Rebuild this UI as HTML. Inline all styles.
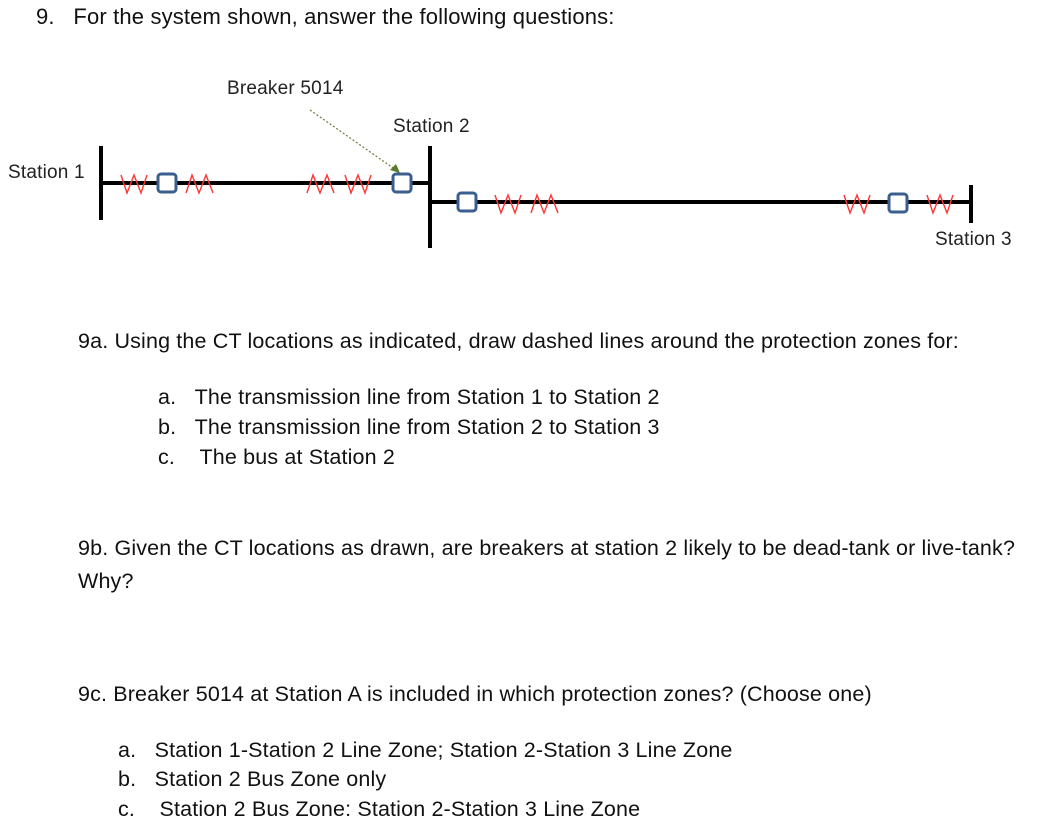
<!DOCTYPE html>
<html><head><style>
body{margin:0;width:1056px;height:840px;background:#fff;position:relative;font-family:"Liberation Sans",sans-serif;color:#111;overflow:hidden}
.t{position:absolute;white-space:nowrap}
.m{font-size:21.5px;letter-spacing:0.15px}
.s{font-size:19px;color:#222;letter-spacing:0.2px}
</style></head><body>
<div class="t m" style="left:36px;top:4px;font-size:22px">9.&nbsp;&nbsp;&nbsp;For the system shown, answer the following questions:</div>
<div class="t s" style="left:227px;top:78px">Breaker 5014</div>
<div class="t s" style="left:393px;top:116px">Station 2</div>
<div class="t s" style="left:8px;top:162px">Station 1</div>
<div class="t s" style="left:935px;top:229px">Station 3</div>
<svg width="1056" height="300" style="position:absolute;left:0;top:0">
<g stroke="#000" stroke-width="4" fill="none">
<line x1="101" y1="146" x2="101" y2="220"/>
<line x1="101" y1="183" x2="429" y2="183"/>
<line x1="430" y1="146" x2="430" y2="248"/>
<line x1="430" y1="202" x2="971" y2="202"/>
<line x1="971" y1="185" x2="971" y2="223"/>
</g>
<line x1="310" y1="110" x2="396" y2="170" stroke="#6a7a3a" stroke-width="1.2" stroke-dasharray="2,2"/>
<polygon points="400,173 390,170 396,164" fill="#5a7a2a"/>
<g stroke="#f33" stroke-width="1.4" fill="none">
<polyline points="121,175 127,193 134,175 141,193 147,175"/>
<polyline points="186,193 192,175 199,193 206,175 213,193"/>
<polyline points="307,193 313,175 320,193 327,175 334,193"/>
<polyline points="345,175 351,193 358,175 365,193 371,175"/>
<polyline points="495,195 501,213 508,195 515,213 521,195"/>
<polyline points="531,213 537,195 544,213 551,195 558,213"/>
<polyline points="844,195 850,213 857,195 864,213 870,195"/>
<polyline points="927,195 933,213 940,195 947,213 953,195"/>
</g>
<g stroke="#3a5f8f" stroke-width="3" fill="#fff">
<rect x="158" y="174" width="18" height="18" rx="3"/>
<rect x="393" y="174" width="18" height="18" rx="3"/>
<rect x="458" y="193" width="18" height="18" rx="3"/>
<rect x="889" y="194" width="18" height="18" rx="3"/>
</g>
</svg>
<div class="t m" style="left:78px;top:329px">9a. Using the CT locations as indicated, draw dashed lines around the protection zones for:</div>
<div class="t m" style="left:158px;top:385px">a.&nbsp;&nbsp;&nbsp;The transmission line from Station 1 to Station 2</div>
<div class="t m" style="left:158px;top:415px">b.&nbsp;&nbsp;&nbsp;The transmission line from Station 2 to Station 3</div>
<div class="t m" style="left:158px;top:445px">c.&nbsp;&nbsp;&nbsp;&nbsp;The bus at Station 2</div>
<div class="t m" style="left:78px;top:536px">9b. Given the CT locations as drawn, are breakers at station 2 likely to be dead-tank or live-tank?</div>
<div class="t m" style="left:78px;top:569px">Why?</div>
<div class="t m" style="left:78px;top:682px">9c. Breaker 5014 at Station A is included in which protection zones? (Choose one)</div>
<div class="t m" style="left:118px;top:738px">a.&nbsp;&nbsp;&nbsp;Station 1-Station 2 Line Zone; Station 2-Station 3 Line Zone</div>
<div class="t m" style="left:118px;top:767px">b.&nbsp;&nbsp;&nbsp;Station 2 Bus Zone only</div>
<div class="t m" style="left:118px;top:797px">c.&nbsp;&nbsp;&nbsp;&nbsp;Station 2 Bus Zone: Station 2-Station 3 Line Zone</div>
</body></html>
